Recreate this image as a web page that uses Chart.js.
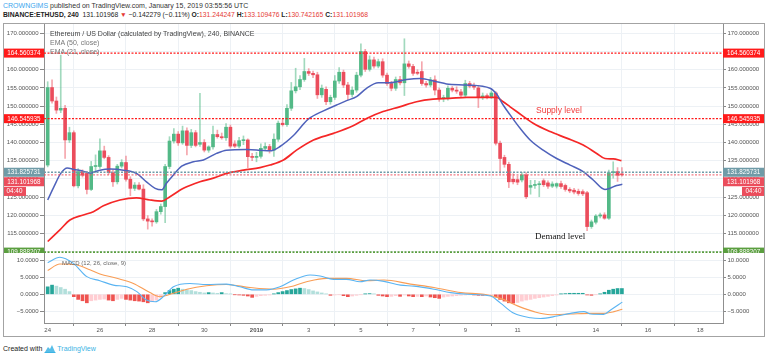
<!DOCTYPE html>
<html><head><meta charset="utf-8">
<script src="https://cdn.jsdelivr.net/npm/chart.js@4.4.1/dist/chart.umd.min.js"></script>
<style>
html,body{margin:0;padding:0;background:#fff;}
body{width:768px;height:357px;position:relative;overflow:hidden;font-family:"Liberation Sans",Arial,sans-serif;}
.abs{position:absolute;white-space:nowrap;}
#h1{left:3px;top:2px;font-size:7px;line-height:8px;color:#333;}
#h1 .user{color:#3ba6ee;}
#h2{left:3px;top:11px;font-size:6.75px;line-height:8px;color:#222;}
#h2 .r{color:#e53935;}
#frame{left:3px;top:23px;width:762px;height:314px;box-sizing:border-box;border:1px solid #a3a3a3;pointer-events:none;}
canvas{position:absolute;}
#cA{left:3px;top:23px;}
#cB{left:3px;top:253px;}
#legend{left:50px;top:29px;font-size:7px;line-height:9px;color:#777;}
#legend .t{color:#444;}
#supply{left:536px;top:105px;font-size:8.5px;line-height:10px;color:#f23b3b;}
#demand{left:535px;top:231px;font-size:9px;line-height:10px;color:#111;font-family:"Liberation Serif","Times New Roman",serif;}
#macdLeg{left:62px;top:259.5px;font-size:6px;line-height:7px;color:#666;}
#foot{left:3px;top:343.5px;font-size:7px;line-height:8px;color:#222;}
#foot .tv{color:#3bb3e4;}
#foot svg{vertical-align:-2px;margin:0 1px 0 2px;}
</style>
</head><body>
<div id="h1" class="abs"><span class="user">CROWNGIMS</span> published on TradingView.com, January 15, 2019 03:55:56 UTC</div>
<div id="h2" class="abs"><b>BINANCE:ETHUSD, 240</b>&nbsp; 131.101968 <span class="r">▼</span> −0.142279 (−0.11%) <b>O:</b><span class="r">131.244247</span> <b>H:</b><span class="r">133.109476</span> <b>L:</b><span class="r">130.742165</span> <b>C:</b><span class="r">131.101968</span></div>

<canvas id="cA" width="762" height="230" style="width:762px;height:230px"></canvas>
<canvas id="cB" width="762" height="84" style="width:762px;height:84px"></canvas>

<div id="legend" class="abs"><div class="t">Ethereum / US Dollar (calculated by TradingView), 240, BINANCE</div><div>EMA (50, close)</div><div>EMA (21, close)</div></div>
<div id="supply" class="abs">Supply level</div>
<div id="demand" class="abs">Demand level</div>
<div id="macdLeg" class="abs">MACD (12, 26, close, 9)</div>
<div id="frame" class="abs"></div>
<div id="foot" class="abs">Created with<svg width="12" height="9" viewBox="0 0 12 9"><path d="M1 8 L4 3 L6 5 L8 1 L11 8 Z" fill="#3bb3e4" opacity="0.85"/><path d="M0.5 8.5 H11.5" stroke="#3bb3e4" stroke-width="1"/></svg><span class="tv">TradingView</span></div>

<script>
// ---------- DATA (4h candles from Dec 24, 2018 00:00) ----------
const opens = [133.8,155.1,151.4,148.9,149.4,140.7,142.7,128.1,132.0,131.5,
127.1,133.4,133.4,137.7,135.9,131.7,129.2,133.5,134.5,129.9,
127.4,128.3,127.2,119.0,118.4,118.2,121.0,122.4,133.4,140.4,
142.3,139.9,143.2,139.2,142.7,139.5,140.0,137.9,138.8,142.2,
141.6,141.3,144.2,139.6,139.0,140.5,140.7,136.1,135.9,136.2,
138.4,138.9,137.9,140.9,145.3,144.9,149.4,154.2,155.3,157.3,
159.5,159.0,158.6,153.1,154.6,151.2,152.4,156.9,159.3,155.8,
153.2,154.4,158.5,165.0,160.1,162.7,161.0,162.2,158.5,156.2,
154.9,157.3,156.4,161.6,160.9,159.3,159.5,156.2,155.8,157.2,
154.4,152.1,152.1,154.9,154.4,153.9,153.0,156.2,155.5,155.0,
152.3,152.8,152.6,153.6,139.8,135.9,134.0,129.9,129.8,129.7,
131.1,127.7,128.2,128.4,129.5,128.9,128.0,128.0,128.7,128.2,
127.1,126.9,126.6,126.5,126.2,116.9,118.1,119.8,120.1,119.2,
131.7,132.0,131.244247];
const highs = [156.7,157.2,152.5,164.0,150.2,144.2,143.2,132.8,132.5,132.0,
134.8,136.6,141.0,139.0,136.4,132.5,134.0,135.3,136.3,130.6,
129.0,129.0,128.4,119.9,119.0,121.6,123.1,134.0,141.6,143.8,
143.0,144.5,144.0,143.6,143.3,153.5,140.8,139.1,144.5,143.4,
142.6,145.2,144.8,140.5,141.4,141.8,141.0,137.0,137.3,139.6,
139.9,139.5,142.4,145.9,146.4,150.4,156.5,160.4,158.4,163.1,
160.3,159.6,159.3,155.8,155.3,153.0,158.4,160.6,159.9,156.5,
155.3,159.3,167.1,165.6,163.8,163.5,162.9,163.0,159.1,156.8,
158.0,158.2,168.5,162.4,161.5,160.0,162.2,156.8,157.9,158.3,
155.0,153.0,155.6,155.4,155.3,154.6,157.1,156.8,156.3,155.6,
153.6,153.4,154.2,154.0,140.4,136.5,134.6,131.4,130.8,131.8,
131.7,129.6,129.6,129.3,130.0,129.5,129.2,128.9,129.4,128.6,
127.6,127.4,127.2,127.0,126.6,118.7,120.2,120.6,120.7,132.4,
134.7,133.1,133.109476];
const lows = [133.3,150.8,148.0,148.2,135.6,140.0,127.8,127.5,130.5,125.9,
126.8,131.8,132.9,135.5,131.2,127.9,128.6,133.0,129.4,125.4,
126.8,127.0,118.5,116.2,117.0,117.8,120.3,118.0,132.8,139.8,
139.2,139.5,136.6,138.6,138.8,138.9,137.4,137.3,138.2,141.2,
140.9,140.6,138.5,138.6,138.5,139.4,133.1,135.0,134.7,135.7,
137.8,137.1,136.2,140.3,144.5,144.4,148.8,153.6,154.5,156.8,
158.4,157.8,152.1,152.4,150.4,150.5,151.8,156.2,155.1,151.8,
152.5,153.8,158.0,159.5,159.6,160.4,160.5,157.9,155.7,154.2,
154.3,155.8,152.9,160.4,158.4,158.6,155.7,155.2,155.3,153.1,
151.3,151.2,151.6,153.9,153.5,152.5,152.4,155.0,154.6,149.6,
151.8,152.0,152.1,139.3,131.6,133.2,127.6,128.6,128.4,129.2,
124.6,125.8,127.4,125.1,127.9,127.4,127.6,127.5,127.4,126.6,
126.2,125.9,125.5,125.4,115.8,116.4,117.6,119.3,118.9,118.9,
130.2,129.3,130.742165];
const closes = [155.1,151.4,148.9,149.4,140.7,142.7,128.1,132.0,131.0,127.1,
133.4,133.6,137.7,135.9,131.7,129.2,133.5,134.5,129.9,127.4,
128.3,127.2,119.0,118.4,118.2,121.0,122.4,133.4,140.4,142.3,
139.9,143.2,139.2,142.7,139.2,140.0,137.9,138.8,142.2,141.6,
141.3,144.2,139.0,139.0,140.5,140.7,136.1,135.9,136.2,138.4,
138.9,137.9,140.9,145.3,144.9,149.4,154.2,155.3,157.3,159.5,
159.0,158.6,153.1,154.9,151.2,152.4,156.9,159.3,155.8,153.2,
154.4,158.5,165.0,160.1,162.7,161.0,162.2,158.5,156.2,154.9,
157.3,156.4,161.6,160.9,159.0,159.0,156.2,155.8,157.2,154.4,
152.1,152.3,154.9,154.4,154.1,153.0,156.2,155.5,155.2,152.3,
152.8,152.6,153.6,139.8,135.6,134.0,129.2,129.2,129.1,131.1,
125.1,128.2,128.4,128.5,128.4,128.0,128.6,128.7,127.9,127.1,
126.7,126.4,126.0,125.9,116.9,118.2,119.8,120.1,119.2,131.7,
131.9,131.0,131.101968];

// EMA readings (candle index, value)
const ema21Idx = [0,1.5,3,4.5,6,8,9.7,12,14.3,17.4,20.4,22.7,24.7,26.2,27.3,28.9,30.8,33.5,35.8,38.8,41.1,45.7,48.8,51.1,53.4,56.5,59.9,63.4,66.4,68.7,71,73.3,76,78.7,82.5,85.6,89.4,91.7,96.3,101.7,103.2,104.7,106.3,108.6,110.9,113.9,117,120.1,123.1,125.4,128.1,129.2,130.8,132.1];
const ema21Val = [124.2,128.0,131.5,133.0,132.6,132.2,131.6,132.4,132.7,132.4,131.5,129.2,127.4,127.0,128.8,131.1,133.5,134.7,135.2,137.0,137.9,138.1,137.9,137.7,138.9,141.9,146.4,148.7,150.3,151.5,152.6,154.9,156.4,156.4,157.3,157.6,156.7,156.1,155.8,154.9,153.3,150.3,147.6,143.9,140.7,137.9,135.6,133.8,132.0,129.7,127.1,127.4,128.2,128.5];
const ema50Idx = [0,2.8,5.1,8.2,10.5,12.8,16.6,20.4,23.5,26.2,28.1,31.2,35,38.1,41.1,45,48.8,51.1,54.2,57.2,61.1,65.7,70.2,73.3,77.1,80.9,84.8,88.6,92.4,96.3,100.1,103.2,104.7,106.3,107.8,111.6,115.5,119.3,123.1,126.2,128.1,130,131.9];
const ema50Val = [112.8,116.0,118.7,120.1,121.0,122.6,124.2,124.8,124.2,123.9,125.1,127.4,129.2,130.2,131.5,132.4,133.1,133.8,135.2,137.9,140.7,142.5,144.6,146.6,148.5,149.8,151.2,151.9,152.1,152.4,152.4,152.4,151.2,149.8,148.5,145.3,143.0,141.2,139.3,137.0,135.6,135.5,135.0];

// MACD (12, 26, close, 9) readings
const macdIdx = [0,2.8,5.9,9.0,12.0,15.1,18.2,20.5,22.7,24.7,26.6,28.9,32.7,36.5,41.1,44.2,47.3,50.3,53.4,56.5,60.3,62.6,65.7,68.7,71.8,74.1,77.3,81.1,84.2,88.8,92.6,96.5,101.8,104.1,107.2,111,113.3,117.1,120.2,123.3,124.8,127.8,129.4,132.1];
const macdVal = [9.3,10.9,9.1,5.2,4.0,2.7,2.2,0.8,-1.7,-2.2,-0.7,2.2,3.2,2.9,3.0,2.2,1.3,1.3,2.2,4.2,5.7,5.4,4.4,4.4,3.7,4.2,3.8,2.7,2.4,1.5,0.5,0.0,-0.5,-2.6,-5.6,-6.9,-7.1,-6.4,-5.6,-5.1,-5.8,-5.9,-4.6,-2.3];
const signalIdx = [0,2.8,6.7,9.7,12,15.9,19.7,23.5,25.8,28.9,32,36.5,41.1,46.5,51.9,55.7,59.5,64.1,68.7,73.3,77.3,83.4,88.8,95,100.3,104.1,108,111.8,115.6,120.2,124.8,127.8,130.2,132.1];
const signalVal = [7.0,8.9,8.6,7.2,6.0,4.7,3.2,0.5,-0.7,0.3,1.5,2.5,2.9,2.0,1.5,2.2,3.7,4.7,4.7,4.0,4.2,3.0,2.0,0.5,0.0,-1.2,-3.4,-5.1,-6.0,-5.8,-5.6,-5.6,-5.1,-4.4];
const histVal = [2.2,2.7,2.4,2.0,1.5,0.8,-0.7,-1.5,-1.9,-2.5,
-1.9,-1.7,-1.5,-1.4,-1.7,-1.9,-1.5,-1.2,-1.5,-1.7,
-1.9,-2.0,-2.2,-2.5,-2.2,-1.7,-0.9,0.5,1.1,1.5,
1.8,1.5,1.3,1.1,0.8,0.6,0.4,0.5,0.4,0.3,
0.5,0.2,0.1,-0.1,-0.2,-0.3,-0.5,-0.9,-0.6,-0.4,
-0.3,-0.2,0.1,0.5,0.8,1.1,1.4,1.6,1.8,1.7,
1.4,1.0,0.7,0.4,0.1,-0.3,-0.2,-0.1,-0.4,-0.7,
-0.5,-0.3,-0.1,0.1,0.2,0.1,-0.3,-0.5,-0.7,-0.6,
-0.4,-0.6,-0.2,-0.5,-0.7,-0.6,-0.7,-0.5,-0.8,-1.0,
-1.2,-0.8,-0.6,-0.5,-0.4,-0.3,-0.2,-0.1,-0.2,-0.3,
-0.3,-0.2,-0.1,-0.8,-1.5,-2.0,-2.5,-2.6,-2.4,-2.0,
-1.7,-1.5,-1.2,-1.0,-0.8,-0.6,-0.4,-0.2,0.1,0.2,
0.3,0.3,0.3,0.3,-0.2,-0.3,-0.1,0.1,0.6,1.2,
1.5,1.7,1.7];

// Horizontal levels and labels
const levelValues = [164.560374, 146.545935, 131.825731, 131.101968, 109.888207];
const countdownText = '04:40';
const priceTicks = [110,115,120,125,130,135,140,145,150,155,160,165,170];
const macdTicks = [-5,0,5,10];
const dayTickIdx = [0,12,24,36,48,60,72,84,96,108,126,138,150];
const dayTickLabels = ['24','26','28','30','2019','3','5','7','9','11','14','16','18'];

// ---------- STYLE ----------
const FONT = '"Liberation Sans", Arial, sans-serif';
Chart.defaults.font.family = FONT;
const X_MIN = -0.85, X_MAX = 155.24;
const UP = '#53b987', DOWN = '#eb4d5c';
const GRID = '#edf1f5';
const AXIS = '#8f8f8f';
const levelColors = ['#ff1a1a','#ff1a1a','#6f9ba7','rgba(235,77,92,0.75)','#5a9e3f'];
const levelBoxColors = ['#ff1a1a','#ff1a1a','#6f9ba7','#eb4d5c','#5a9e3f'];

const upDown = opens.map((o,i)=> closes[i] >= o);

const levelDatasets = levelValues.map((v,k)=>({
  type:'line', data:[{x:X_MIN,y:v},{x:X_MAX,y:v}],
  borderColor: levelColors[k], borderWidth: k===4?1.6:1.3, borderDash:[2,1.5],
  pointRadius:0, order:1, yAxisID:'y'
}));

const levelBoxPlugin = {
  id:'levelBoxes',
  afterDraw(chart){
    const ctx = chart.ctx, ys = chart.scales.y;
    const W = chart.width;
    const H = 9;
    const items = levelValues.map((v,k)=>({v,k,y:ys.getPixelForValue(v)})).sort((a,b)=>a.y-b.y);
    let lastBottom = -1e9;
    items.forEach(it=>{ let cy = it.y; if (cy - H/2 < lastBottom + 0.5) cy = lastBottom + 0.5 + H/2; it.cy = cy; lastBottom = cy + H/2;
      if (it.k === 3) { it.cd = cy + H + 0.7; lastBottom = it.cd + H/2; } });
    ctx.save();
    ctx.font = '6.3px ' + FONT;
    ctx.textBaseline = 'middle';
    items.forEach(it=>{
      const txt = it.v.toFixed(6);
      ctx.fillStyle = levelBoxColors[it.k];
      ctx.fillRect(0, it.cy - H/2, 41, H);
      ctx.fillRect(W-42, it.cy - H/2, 42, H);
      ctx.fillStyle = '#fff';
      ctx.textAlign = 'right'; ctx.fillText(txt, 37.5, it.cy + 0.3);
      ctx.textAlign = 'left'; ctx.fillText(txt, W-38, it.cy + 0.3);
      if (it.cd !== undefined) {
        ctx.fillStyle = levelBoxColors[it.k];
        ctx.fillRect(0, it.cd - H/2, 23, H);
        ctx.fillRect(W-23, it.cd - H/2, 23, H);
        ctx.fillStyle = '#fff'; ctx.textAlign = 'center';
        ctx.fillText(countdownText, 11.5, it.cd + 0.3);
        ctx.fillText(countdownText, W-11.5, it.cd + 0.3);
      }
    });
    ctx.restore();
  }
};

function yAxis(pos, ticksArr, fmt, min, max, width, tickLen){
  return {
    type:'linear', position:pos, min:min, max:max,
    afterBuildTicks: s => { s.ticks = ticksArr.map(v=>({value:v})); },
    afterFit: s => { s.width = width; s.paddingTop = 0; s.paddingBottom = 0; },
    ticks:{ callback: fmt, font:{size:6, family:FONT}, color:'#555', padding:1.5, autoSkip:false, maxRotation:0 },
    grid:{ color:GRID, drawOnChartArea: pos==='left', tickLength:tickLen, tickColor:'#888' },
    border:{ color:AXIS, width:1 }
  };
}
const priceFmt = v => Number(v).toFixed(6);
const macdFmt = v => (v<0?'\u2212':'') + Math.abs(v).toFixed(4);
const xFit = h => (s => { s.height = h; s.paddingLeft = 0; s.paddingRight = 0; });

// ---------- MAIN PANE ----------
new Chart(document.getElementById('cA'), {
  type:'bar',
  data:{ datasets:[
    ...levelDatasets,
    { type:'line', label:'EMA 21', data: ema21Idx.map((x,i)=>({x, y:ema21Val[i]})), borderColor:'#4f62bb', borderWidth:1.5, pointRadius:0, cubicInterpolationMode:'monotone', order:2 },
    { type:'line', label:'EMA 50', data: ema50Idx.map((x,i)=>({x, y:ema50Val[i]})), borderColor:'#f52727', borderWidth:1.7, pointRadius:0, cubicInterpolationMode:'monotone', order:3 },
    { type:'bar', label:'wick', data: highs.map((h,i)=>({x:i, y:[lows[i], h]})), backgroundColor: upDown.map(u=>u?'rgba(83,185,135,0.55)':'rgba(235,77,92,0.5)'), barThickness:1, grouped:false, order:6 },
    { type:'bar', label:'body', data: opens.map((o,i)=>({x:i, y:[o, closes[i]]})), backgroundColor: upDown.map(u=>u?UP:DOWN), barThickness:3, minBarLength:1, grouped:false, order:5 }
  ]},
  options:{
    responsive:false, animation:false, maintainAspectRatio:false,
    layout:{ padding:0 },
    plugins:{ legend:{display:false}, tooltip:{enabled:false} },
    scales:{
      x:{ type:'linear', min:X_MIN, max:X_MAX, offset:false,
          afterBuildTicks: s => { s.ticks = dayTickIdx.map(v=>({value:v})); },
          afterFit: xFit(0),
          ticks:{ display:false }, grid:{ color:GRID, drawTicks:false }, border:{ display:false } },
      y: yAxis('left', priceTicks, priceFmt, 109.64, 172.83, 41, 4),
      yR: yAxis('right', priceTicks, priceFmt, 109.64, 172.83, 42, 3)
    }
  },
  plugins:[levelBoxPlugin]
});

// ---------- MACD PANE ----------
const histColors = histVal.map((v,i)=>{
  const p = i>0 ? histVal[i-1] : v;
  if (v >= 0) return v >= p ? '#26a69a' : '#b2dfdb';
  return v <= p ? '#ef5350' : '#ffcdd2';
});
new Chart(document.getElementById('cB'), {
  type:'bar',
  data:{ datasets:[
    { type:'line', label:'MACD', data: macdIdx.map((x,i)=>({x, y:macdVal[i]})), borderColor:'#5ab4f2', borderWidth:1.1, pointRadius:0, cubicInterpolationMode:'monotone', order:1 },
    { type:'line', label:'Signal', data: signalIdx.map((x,i)=>({x, y:signalVal[i]})), borderColor:'#f99d55', borderWidth:1.1, pointRadius:0, cubicInterpolationMode:'monotone', order:2 },
    { type:'bar', label:'Histogram', data: histVal.map((v,i)=>({x:i, y:v})), backgroundColor: histColors, barThickness:3, grouped:false, order:3 }
  ]},
  options:{
    responsive:false, animation:false, maintainAspectRatio:false,
    layout:{ padding:0 },
    plugins:{ legend:{display:false}, tooltip:{enabled:false} },
    scales:{
      x:{ type:'linear', min:X_MIN, max:X_MAX, offset:false,
          afterBuildTicks: s => { s.ticks = dayTickIdx.map(v=>({value:v})); },
          afterFit: xFit(14),
          ticks:{ callback: v => { const k = dayTickIdx.indexOf(v); return k>=0 ? dayTickLabels[k] : ''; },
                  font: c => ({ size:6, family:FONT, weight: (c.tick && dayTickLabels[dayTickIdx.indexOf(c.tick.value)]==='2019') ? 'bold' : 'normal' }),
                  color:'#555', padding:1, autoSkip:false, maxRotation:0 },
          grid:{ color:GRID, tickLength:3, tickColor:'#888' }, border:{ color:AXIS } },
      y: yAxis('left', macdTicks, macdFmt, -8.44, 12.15, 41, 4),
      yR: yAxis('right', macdTicks, macdFmt, -8.44, 12.15, 42, 3)
    }
  }
});
</script>
</body></html>
